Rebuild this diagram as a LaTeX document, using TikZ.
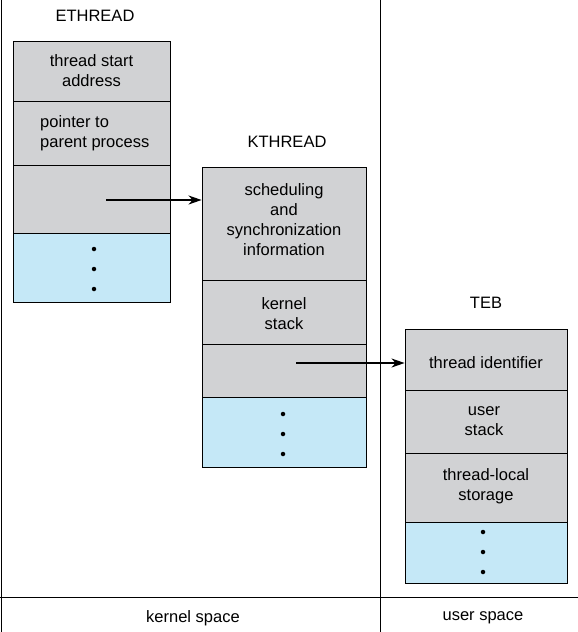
\documentclass[tikz,border=0pt]{standalone}
\usepackage{fontspec}
\setmainfont{Liberation Sans}
\usetikzlibrary{arrows.meta}
\definecolor{cellgray}{HTML}{D1D2D4}
\definecolor{cellblue}{HTML}{C5E8F7}
\begin{document}
\begin{tikzpicture}[x=1pt,y=-1pt,
  every node/.style={font=\fontsize{16.5}{20}\selectfont, inner sep=0pt},
  cell/.style={draw=black, line width=0.9pt, fill=cellgray, rectangle, align=center},
  bluecell/.style={cell, fill=cellblue},
  dotmark/.style={circle, fill=black, minimum size=4.5pt, inner sep=0pt},
  arr/.style={line width=1.4pt, -{Stealth[length=13pt,width=9pt,inset=4pt]}},
  frame/.style={line width=0.9pt}]
\useasboundingbox (0,0) rectangle (578,632);
% frame lines
\draw[frame] (1,0) -- (1,632);
\draw[frame] (380,0) -- (380,632);
\draw[frame] (0,597) -- (578,597);
\node (ks) at (193,618) {kernel space};
\node (us) at (483,618) {user space};
% ETHREAD
\node (et) at (95,16) {ETHREAD};
\node[cell, minimum width=157pt, minimum height=60pt] (e1) at (91.5,71) {thread start\\address};
\node[cell, minimum width=157pt, minimum height=64pt] (e2) at (91.5,133) {};
\node[anchor=west, align=left] (e2t) at (40,133) {pointer to\\parent process};
\node[cell, minimum width=157pt, minimum height=68pt] (e3) at (91.5,199) {};
\node[bluecell, minimum width=157pt, minimum height=69pt] (e4) at (91.5,267.5) {};
\node[dotmark] (ed1) at (94,249) {};
\node[dotmark] (ed2) at (94,269) {};
\node[dotmark] (ed3) at (94,289) {};
% KTHREAD
\node (kt) at (287,142) {KTHREAD};
\node[cell, minimum width=164pt, minimum height=113pt] (k1) at (284,223.5) {};
\node[align=center] (k1t) at (284,219.5) {scheduling\\and\\synchronization\\information};
\node[cell, minimum width=164pt, minimum height=64pt] (k2) at (284,312) {};
\node[align=center] (k2t) at (284,313.5) {kernel\\stack};
\node[cell, minimum width=164pt, minimum height=53pt] (k3) at (284,370.5) {};
\node[bluecell, minimum width=164pt, minimum height=70pt] (k4) at (284,432) {};
\node[dotmark] (kd1) at (283,414) {};
\node[dotmark] (kd2) at (283,434) {};
\node[dotmark] (kd3) at (283,454) {};
% TEB
\node (tb) at (486,303) {TEB};
\node[cell, minimum width=162pt, minimum height=61pt] (t1) at (486,359.5) {};
\node (t1t) at (486,363) {thread identifier};
\node[cell, minimum width=162pt, minimum height=63pt] (t2) at (486,421.5) {};
\node[align=center] (t2t) at (484,421.5) {user\\stack};
\node[cell, minimum width=162pt, minimum height=69pt] (t3) at (486,487.5) {};
\node[align=center] (t3t) at (486,486) {thread-local\\storage};
\node[bluecell, minimum width=162pt, minimum height=61pt] (t4) at (486,552.5) {};
\node[dotmark] (td1) at (483,532) {};
\node[dotmark] (td2) at (483,552) {};
\node[dotmark] (td3) at (483,572) {};
% pointers
\coordinate (p1) at (106,200);
\coordinate (p2) at (296,363);
\draw[arr] (p1) -- (p1 -| k1.west);
\draw[arr] (p2) -- (p2 -| t1.west);
\end{tikzpicture}
\end{document}
